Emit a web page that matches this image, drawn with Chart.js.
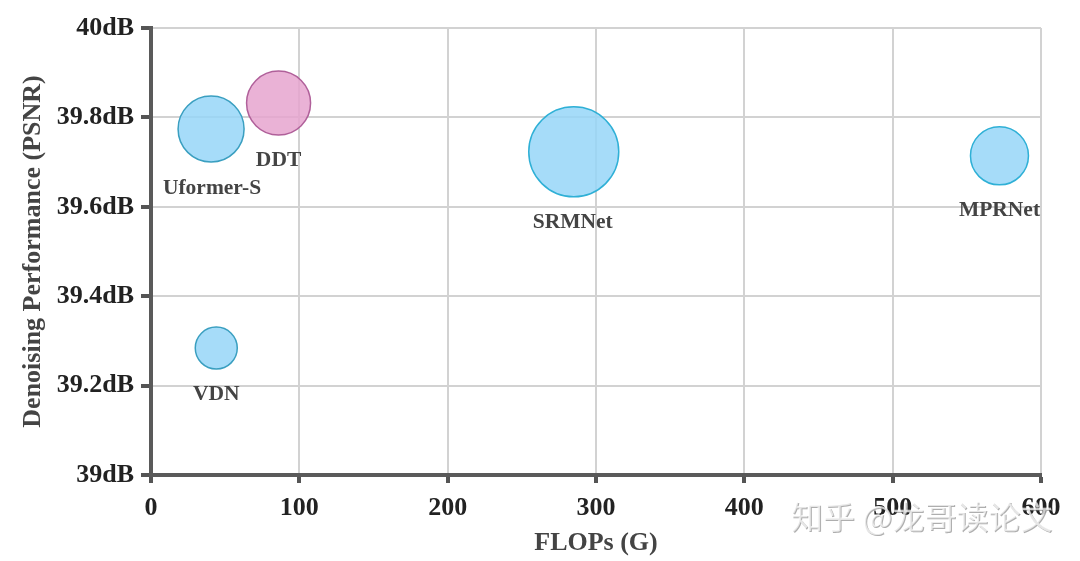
<!DOCTYPE html>
<html><head><meta charset="utf-8">
<script src="https://cdn.jsdelivr.net/npm/chart.js@4"></script>
<style>html,body{margin:0;padding:0;background:#fff}#w{width:1080px;height:561px;position:relative}</style>
</head><body><div id="w"><canvas id="c"></canvas></div>
<script>
const models=["Uformer-S","DDT","SRMNet","MPRNet","VDN"];
const flops=[40.5,86,285,572,44];
const psnr=[39.774,39.832,39.723,39.714,39.284];
const radii=[33,32,45,29,21];
const yTicks=[39,39.2,39.4,39.6,39.8,40];
const yTickLabels=["39dB","39.2dB","39.4dB","39.6dB","39.8dB","40dB"];
const xTitle="FLOPs (G)";
const yTitle="Denoising Performance (PSNR)";
const watermark="知乎 @龙哥读论文";
const fills=["rgba(150,214,248,0.85)","rgba(230,165,207,0.85)","rgba(150,214,248,0.85)","rgba(150,214,248,0.85)","rgba(150,214,248,0.85)"];
const borders=["#3a9fc0","#b0609a","#2fb0d6","#2fb0d6","#3a9fc0"];
const serif='"Liberation Serif","DejaVu Serif",serif';
const AREA={left:151,right:1041,top:28,bottom:475};

const labelsPlugin={id:'pointLabels',afterDatasetsDraw(chart){
  const {ctx,scales:{x,y}}=chart;
  ctx.save();ctx.font='bold 21.5px '+serif;ctx.fillStyle='#444';ctx.textAlign='center';ctx.textBaseline='middle';
  const shift=[[1,59],[0,57],[-1,71],[0,55],[0,46]];
  models.forEach((m,i)=>ctx.fillText(m,x.getPixelForValue(flops[i])+shift[i][0],y.getPixelForValue(psnr[i])+shift[i][1]));
  ctx.restore();
}};
const watermarkPlugin={id:'wm',afterDraw(chart){
  const ctx=chart.ctx;ctx.save();
  ctx.font='32px "Noto Sans CJK SC"';ctx.textAlign='left';ctx.textBaseline='middle';
  ctx.fillStyle='rgba(120,120,120,0.6)';ctx.fillText(watermark,792,518);
  ctx.fillStyle='rgba(255,255,255,0.7)';ctx.fillText(watermark,791,517);
  ctx.restore();
}};
new Chart(document.getElementById('c'),{
  type:'bubble',
  data:{datasets:[{data:models.map((m,i)=>({x:flops[i],y:psnr[i],r:radii[i]})),
    backgroundColor:fills,borderColor:borders,borderWidth:1.5,hoverRadius:0}]},
  plugins:[labelsPlugin,watermarkPlugin],
  options:{responsive:true,maintainAspectRatio:false,animation:false,devicePixelRatio:1,
    layout:{autoPadding:false,padding:{left:0,right:1080-AREA.right,top:AREA.top,bottom:0}},
    plugins:{legend:{display:false},tooltip:{enabled:false}},
    scales:{
      x:{type:'linear',min:0,max:600,
        afterFit(s){s.height=561-AREA.bottom},
        ticks:{stepSize:100,color:'#222',font:{family:serif,size:26,weight:'bold'},padding:10,maxRotation:0},
        grid:{color:'#d2d2d2',lineWidth:2,tickColor:'#555',tickWidth:4,tickLength:8},
        border:{color:'#5a5a5a',width:4},
        title:{display:true,text:xTitle,color:'#444',font:{family:serif,size:26,weight:'bold'},padding:{top:0,bottom:2}}},
      y:{type:'linear',min:39,max:40,
        afterFit(s){s.width=AREA.left},
        afterBuildTicks(s){s.ticks=yTicks.map(v=>({value:v}))},
        ticks:{color:'#222',font:{family:serif,size:26,weight:'bold'},padding:7,
          callback(v){const i=yTicks.findIndex(t=>Math.abs(t-v)<1e-6);return yTickLabels[i]}},
        grid:{color:'#d2d2d2',lineWidth:2,tickColor:'#555',tickWidth:4,tickLength:10},
        border:{color:'#5a5a5a',width:4},
        title:{display:true,text:yTitle,color:'#444',font:{family:serif,size:26,weight:'bold'},padding:{top:18,bottom:0}}}
    }}
});
</script></body></html>
